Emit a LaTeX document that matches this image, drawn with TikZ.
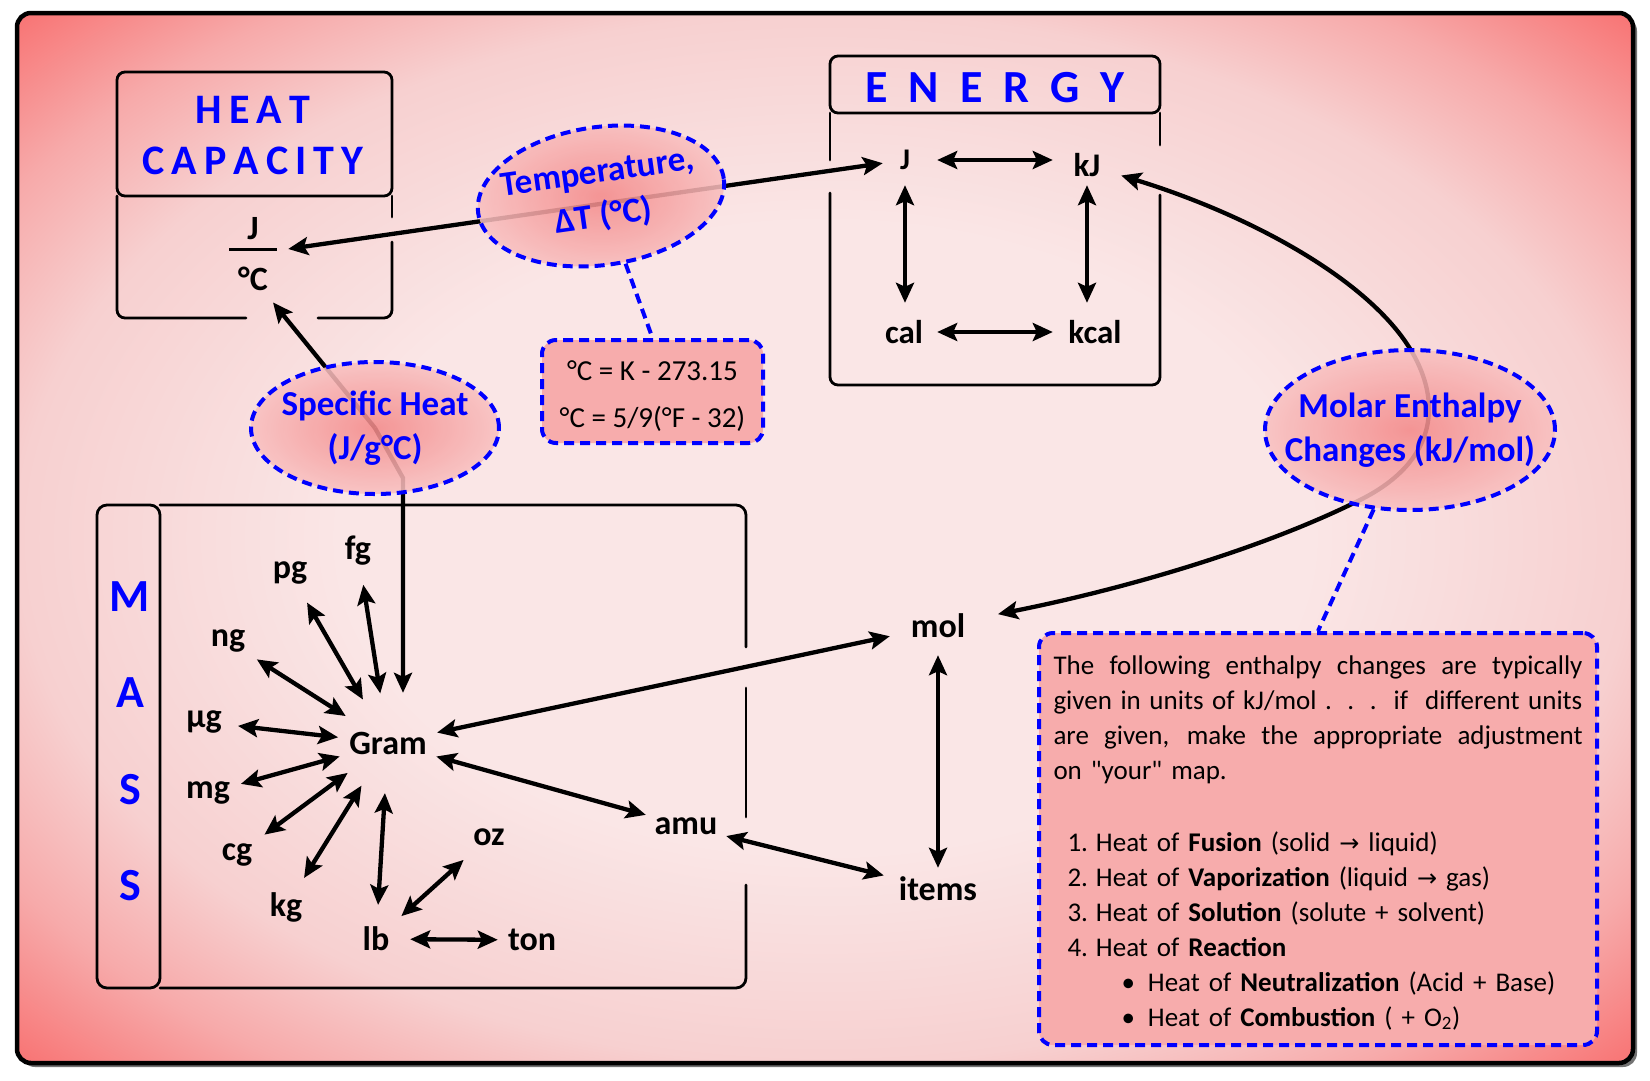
\documentclass[tikz,border=0pt]{standalone}
\usepackage{fontspec}
\setmainfont{Carlito}
\newfontfamily\djv{DejaVu Sans}
\usetikzlibrary{arrows.meta,shapes.geometric,calc}
\pgfdeclarelayer{back}
\pgfdeclarelayer{conn}
\pgfsetlayers{back,conn,main}
\definecolor{myblue}{RGB}{0,0,255}
\definecolor{bgA}{RGB}{250,230,230}
\definecolor{bgB}{RGB}{247,208,208}
\definecolor{bgC}{RGB}{247,170,170}
\definecolor{bgD}{RGB}{248,108,108}
\definecolor{bubin}{RGB}{244,138,138}
\definecolor{bubout}{RGB}{248,192,192}
\definecolor{boxfill}{RGB}{247,172,172}
\pgfdeclareradialshading{bgsh}{\pgfpoint{0bp}{0bp}}{color(0bp)=(bgA); color(15bp)=(bgA); color(25bp)=(bgB); color(30bp)=(bgC); color(36bp)=(bgD); color(50bp)=(bgD)}
\newcommand{\jline}[1]{\makebox[\linewidth][s]{\spaceskip=0pt\xspaceskip=0pt #1}}
\newcommand{\rarr}{{\djv\fontsize{24}{30}\selectfont →}}
\begin{document}
\begin{tikzpicture}[x=1pt,y=-1pt,
  >={Stealth[length=20pt,width=18pt,inset=4pt]},
  lab/.style={font=\fontsize{34}{40}\selectfont\bfseries, inner sep=0pt},
  unit/.style={lab, circle, minimum size=68pt},
  link/.style={line width=4.3pt},
  boxln/.style={line width=2.8pt, line cap=round, line join=round},
  dsh/.style={draw=myblue, line width=4pt, dash pattern=on 10pt off 6pt},
  bubble/.style={ellipse, draw=myblue, line width=4pt, dash pattern=on 10pt off 6pt,
     inner color=bubin, outer color=bubout, fill opacity=0.87, text opacity=1,
     text=myblue, font=\fontsize{35}{44}\selectfont\bfseries, align=center, inner sep=0pt},
  ttl/.style={text=myblue, inner sep=0pt},
  tbox/.style={draw=myblue, line width=4pt, dash pattern=on 10pt off 6pt, fill=boxfill,
     rounded corners=14pt, inner sep=0pt}
]
\useasboundingbox (0,0) rectangle (1650,1080);
\begin{pgfonlayer}{back}
  \fill[white] (0,0) rectangle (1650,1080);
  \fill[black!55, rounded corners=14pt] (21,17) rectangle (1637,1067);
  \shade[shading=bgsh, rounded corners=14pt] (17,13) rectangle (1633,1063);
  \draw[line width=4.5pt, rounded corners=14pt] (17,13) rectangle (1633,1063);
  % HEAT CAPACITY box
  \draw[boxln, rounded corners=8pt] (117,72) rectangle (392,196);
  \draw[boxln, rounded corners=8pt] (246,318) -- (117,318) -- (117,196);
  \draw[boxln, rounded corners=8pt] (318,318) -- (392,318) -- (392,242);
  \draw[boxln] (392,217) -- (392,196);
  % ENERGY box
  \draw[boxln, rounded corners=8pt] (830,56) rectangle (1160,113);
  \draw[boxln] (830,113) -- (830,160);
  \draw[boxln, rounded corners=8pt] (830,193) -- (830,385) -- (1160,385) -- (1160,195);
  \draw[boxln] (1160,145) -- (1160,113);
  % MASS box
  \draw[boxln, rounded corners=10pt] (97,505) rectangle (160,988);
  \draw[boxln, rounded corners=10pt] (160,505) -- (746,505) -- (746,647);
  \draw[boxln] (746,688) -- (746,817);
  \draw[boxln, rounded corners=10pt] (746,885) -- (746,988) -- (160,988);
\end{pgfonlayer}

% titles
\node[ttl, font=\fontsize{42}{48}\selectfont\bfseries] (hcT1) at (253,110) {H\hspace{7pt}E\hspace{7pt}A\hspace{7pt}T};
\node[ttl, font=\fontsize{42}{48}\selectfont\bfseries] (hcT2) at (253,161) {C\hspace{7pt}A\hspace{7pt}P\hspace{7pt}A\hspace{7pt}C\hspace{7pt}I\hspace{7pt}T\hspace{7pt}Y};
\node[ttl, font=\fontsize{46}{52}\selectfont\bfseries] (enT) at (995,88) {E\hspace{21pt}N\hspace{21pt}E\hspace{21pt}R\hspace{21pt}G\hspace{21pt}Y};
\node[ttl, font=\fontsize{46}{52}\selectfont\bfseries] (mM) at (130,597) {M};
\node[ttl, font=\fontsize{46}{52}\selectfont\bfseries] (mA) at (130,693) {A};
\node[ttl, font=\fontsize{46}{52}\selectfont\bfseries] (mS1) at (130,790) {S};
\node[ttl, font=\fontsize{46}{52}\selectfont\bfseries] (mS2) at (130,886) {S};

% heat capacity fraction
\node[lab, minimum width=70, minimum height=72] (hcfrac) at (253,254)
  {\vbox{\hbox to 48pt{\hss J\hss}\kern8pt\hrule height 2.5pt\kern16pt\hbox to 48pt{\hss °C\hss}}};

% energy units
\node[lab, font=\fontsize{30}{36}\selectfont\bfseries, minimum width=64, minimum height=50] (eJ) at (905,160) {J};
\node[lab, font=\fontsize{33}{40}\selectfont\bfseries, minimum width=68, minimum height=40] (ekJ) at (1087,165) {kJ};
\node[lab, font=\fontsize{33}{40}\selectfont\bfseries, minimum width=66, minimum height=58] (ecal) at (904,332) {cal};
\node[lab, font=\fontsize{33}{40}\selectfont\bfseries, minimum width=84, minimum height=58] (ekcal) at (1095,332) {kcal};

% mass units
\node[lab, circle, minimum size=100] (Gram) at (388,743) {Gram};
\node[unit] (fg) at (358,551) {fg};
\node[unit] (pg) at (290,573) {pg};
\node[unit] (ng) at (228,641) {ng};
\node[unit] (ug) at (204,722) {µg};
\node[unit] (mg) at (208,793) {mg};
\node[unit] (cg) at (237,855) {cg};
\node[unit] (kg) at (286,907) {kg};
\node[unit] (lb) at (376,939) {lb};
\node[unit] (oz) at (489,837) {oz};
\node[unit] (ton) at (532,940) {ton};
\node[lab, minimum width=96, minimum height=58] (mol) at (938,626) {mol};
\node[lab, minimum width=80, minimum height=40] (amu) at (686,826) {amu};
\node[lab, minimum width=108, minimum height=42] (items) at (938,889) {items};

% text boxes
\node[tbox, minimum width=221, minimum height=103, align=center, font=\fontsize{29}{47}\selectfont] (tempbox) at (652.5,391.5)
  {\rule{0pt}{29pt}°C = K - 273.15\\°C = 5/9(°F - 32)};
\node[tbox, minimum width=558, minimum height=412, text width=529pt, align=left, font=\fontsize{27}{35}\selectfont] (enbox) at (1318,839)
  {\jline{\rule{0pt}{26pt}The following enthalpy changes are typically}\\
   \jline{given in units of kJ/mol . . .\ \ if\ \ different units}\\
   \jline{are given, make the appropriate adjustment}\\
   on \textquotedbl your\textquotedbl{} map.\\[37pt]
   \hspace*{14pt}1.\hspace{8pt}Heat of \textbf{Fusion} (solid \rarr{} liquid)\\
   \hspace*{14pt}2.\hspace{8pt}Heat of \textbf{Vaporization} (liquid \rarr{} gas)\\
   \hspace*{14pt}3.\hspace{8pt}Heat of \textbf{Solution} (solute + solvent)\\
   \hspace*{14pt}4.\hspace{8pt}Heat of \textbf{Reaction}\\
   \hspace*{68pt}\textbullet\hspace{13pt}Heat of \textbf{Neutralization} (Acid + Base)\\
   \hspace*{68pt}\textbullet\hspace{13pt}Heat of \textbf{Combustion} ( + O\textsubscript{2})};

% bubbles
\node[bubble, rotate=8, minimum width=248, minimum height=138] (temp) at (601,196)
  {\makebox[0pt]{Temperature,}\\\makebox[0pt]{ΔT (°C)}};
\node[bubble, minimum width=248, minimum height=132] (spec) at (375,428)
  {\makebox[0pt]{Specific Heat}\\\makebox[0pt]{(J/g°C)}};
\node[bubble, minimum width=290, minimum height=160] (molar) at (1410,430)
  {\makebox[0pt]{Molar Enthalpy}\\\makebox[0pt]{Changes (kJ/mol)}};

\coordinate (sh2) at (403,478);
\coordinate (mc1) at (1412,352);
\coordinate (mc2) at (1360,500);

\begin{pgfonlayer}{conn}
  % temperature line
  \draw[link, <->, shorten >=-10pt] (hcfrac) -- (eJ);
  % specific heat
  \draw[link, ->] (spec.center) -- ($(hcfrac.south)+(20,12)$);
  \draw[link, ->] (spec.center) -- (sh2) -- (sh2 |- Gram.north);
  % energy square
  \draw[link, <->] (eJ.east) -- (eJ.east -| ekJ.west);
  \draw[link, <->] (ecal.east) -- (ecal.east -| ekcal.west);
  \draw[link, <->] (eJ.south) -- (eJ.south |- ecal.north);
  \draw[link, <->] (ekJ.south) -- (ekJ.south |- ekcal.north);
  % mass star
  \foreach \u in {fg,pg,ng,ug,mg,cg,kg,lb} { \draw[link, <->] (\u) -- (Gram); }
  \draw[link, <->] (lb) -- (oz);
  \draw[link, <->] (lb) -- (ton);
  \draw[link, <->] (Gram) -- (mol);
  \draw[link, <->] (Gram) -- (amu);
  \draw[link, <->] (amu) -- (items);
  \draw[link, <->] (mol) -- (items);
  % molar enthalpy curve
  \draw[link, <->, shorten >=12pt] (ekJ) .. controls (1250,215) and (1370,280) .. (mc1)
      .. controls (1440,400) and (1440,460) .. (mc2)
      .. controls (1260,550) and (1120,590) .. (mol);
  % dashed callouts
  \draw[dsh] (temp) -- (tempbox.north);
  \draw[dsh] (molar) -- (enbox.north);
\end{pgfonlayer}
\end{tikzpicture}
\end{document}
